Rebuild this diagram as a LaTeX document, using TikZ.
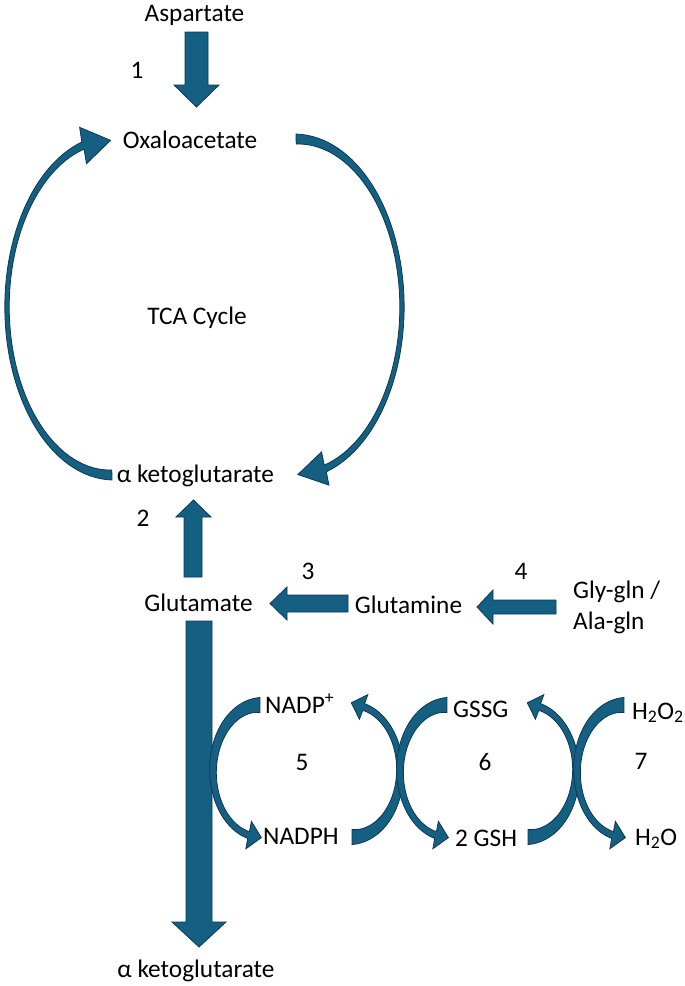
\documentclass[tikz,border=0pt]{standalone}
\usepackage{fontspec}
\setmainfont{Carlito}
\definecolor{arrfill}{HTML}{156082}
\definecolor{arrline}{HTML}{0B3A50}
\tikzset{
  blockarr/.style={fill=arrfill,draw=arrline,line width=0.8pt,line join=miter},
  lbl/.style={inner sep=0pt,font=\fontsize{25.3}{30}\selectfont}
}
\newcommand\cvset[6]{\def\CX{#1}\def\CY{#2}\def\RX{#3}\def\RY{#4}\def\TA{#5}\def\TB{#6}}
\newcommand\cvwidth[7]{\def\WT{#1}\def\WM{#2}\def\WH{#3}\def\HL{#4}\def\HW{#5}\def\HR{#6}\def\PA{#7}}
\newcommand\cvdraw{%
  \pgfmathsetmacro\cvct{cos(\TB)}%
  \pgfmathsetmacro\cvst{sin(\TB)}%
  \pgfmathsetmacro\cvsg{((\TB)-(\TA))/abs((\TB)-(\TA))}%
  \pgfmathsetmacro\cvbx{\CX+\RX*(\cvct)}%
  \pgfmathsetmacro\cvby{\CY-\RY*(\cvst)}%
  \pgfmathsetmacro\cvdx{-1*(\cvsg)*\RX*(\cvst)/100}%
  \pgfmathsetmacro\cvdy{-1*(\cvsg)*\RY*(\cvct)/100}%
  \pgfmathsetmacro\cvdn{sqrt((\cvdx)*(\cvdx)+(\cvdy)*(\cvdy))}%
  \pgfmathsetmacro\cvux{(\cvdx)/(\cvdn)}%
  \pgfmathsetmacro\cvuy{(\cvdy)/(\cvdn)}%
  \pgfmathsetmacro\cvrx{(\cvux)*cos(\HR)-(\cvuy)*sin(\HR)}%
  \pgfmathsetmacro\cvry{(\cvux)*sin(\HR)+(\cvuy)*cos(\HR)}%
  \pgfmathsetmacro\cvnx{-1*(\cvsg)*(\cvry)}%
  \pgfmathsetmacro\cvny{(\cvsg)*(\cvrx)}%
  \pgfmathsetmacro\cvax{\cvbx+\HW*(\cvnx)}%
  \pgfmathsetmacro\cvay{\cvby+\HW*(\cvny)}%
  \pgfmathsetmacro\cvcx{\cvbx-\HW*(\cvnx)}%
  \pgfmathsetmacro\cvcy{\cvby-\HW*(\cvny)}%
  \pgfmathsetmacro\cvtx{\cvbx+\HL*(\cvrx)}%
  \pgfmathsetmacro\cvty{\cvby+\HL*(\cvry)}%
  \filldraw[blockarr]
    plot[domain=0:1,samples=60,variable=\s]
      ({\CX+(\RX+0.5*(\WM+(\WT-\WM)*(1-\s)*(1-\s)*(\PA+(1-\PA)*(1-\s))+(\WH-\WM)*\s*\s*(\PA+(1-\PA)*\s)))*cos(\TA+\s*((\TB)-(\TA)))},
       {\CY-(\RY+0.5*(\WM+(\WT-\WM)*(1-\s)*(1-\s)*(\PA+(1-\PA)*(1-\s))+(\WH-\WM)*\s*\s*(\PA+(1-\PA)*\s)))*sin(\TA+\s*((\TB)-(\TA)))})
    -- (\cvax,\cvay) -- (\cvtx,\cvty) -- (\cvcx,\cvcy)
    -- plot[domain=0:1,samples=60,variable=\s]
      ({\CX+(\RX-0.5*(\WM+(\WT-\WM)*\s*\s*(\PA+(1-\PA)*\s)+(\WH-\WM)*(1-\s)*(1-\s)*(\PA+(1-\PA)*(1-\s))))*cos(\TA+(1-\s)*((\TB)-(\TA)))},
       {\CY-(\RY-0.5*(\WM+(\WT-\WM)*\s*\s*(\PA+(1-\PA)*\s)+(\WH-\WM)*(1-\s)*(1-\s)*(\PA+(1-\PA)*(1-\s))))*sin(\TA+(1-\s)*((\TB)-(\TA)))})
    -- cycle;
}
\begin{document}
\begin{tikzpicture}[x=1pt,y=-1pt]
\useasboundingbox (0,0) rectangle (685,986);

% ---------- straight block arrows ----------
\filldraw[blockarr] (185,32) -- (208,32) -- (208,85) -- (219,85) -- (196.5,107) -- (174,85) -- (185,85) -- cycle;
\filldraw[blockarr] (184,577) -- (202,577) -- (202,517) -- (211,517) -- (193.5,500) -- (176,517) -- (184,517) -- cycle;
\filldraw[blockarr] (348,595) -- (348,612) -- (287,612) -- (287,620) -- (270,603.5) -- (287,587) -- (287,595) -- cycle;
\filldraw[blockarr] (556,600) -- (556,614) -- (493,614) -- (493,624) -- (477,607) -- (493,590) -- (493,600) -- cycle;
\filldraw[blockarr] (186,621) -- (212,621) -- (212,922) -- (226,922) -- (199,947) -- (172,922) -- (186,922) -- cycle;

% ---------- TCA curved arrows ----------
\cvset{112}{307}{105}{168}{270}{106}\cvwidth{10}{3}{7.5}{28}{18.5}{14}{0}\cvdraw
\cvset{296}{307}{106}{168}{90}{-74}\cvwidth{10}{3}{7}{28}{17}{12}{0}\cvdraw

% ---------- coupled small curved arrows ----------
\cvset{260}{771}{47}{66}{90}{256}\cvwidth{15}{3}{7}{13}{14}{-8}{1}\cvdraw
\cvset{352}{771}{48}{66}{-90}{76}\cvwidth{15}{3}{7}{13}{13}{0}{1}\cvdraw
\cvset{447}{771}{47}{66}{90}{256}\cvwidth{15}{3}{7}{13}{14}{-8}{1}\cvdraw
\cvset{528}{771}{48}{66}{-90}{76}\cvwidth{15}{3}{7}{13}{13}{0}{1}\cvdraw
\cvset{624}{771}{47}{66}{90}{256}\cvwidth{15}{3}{7}{13}{14}{-8}{1}\cvdraw

% ---------- labels ----------
\node[lbl,anchor=base] (asp) at (194.5,21) {Aspartate};
\node[lbl,anchor=base] (n1) at (137,78) {1};
\node[lbl,anchor=base] (oaa) at (190,148) {Oxaloacetate};
\node[lbl,anchor=base] (tca) at (197,324) {TCA Cycle};
\node[lbl,anchor=base] (akg1) at (195.5,482) {α ketoglutarate};
\node[lbl,anchor=base] (n2) at (143,526) {2};
\node[lbl,anchor=base] (glu) at (198.5,611) {Glutamate};
\node[lbl,anchor=base] (n3) at (308,579) {3};
\node[lbl,anchor=base] (gln) at (408.5,613) {Glutamine};
\node[lbl,anchor=base] (n4) at (521,579) {4};
\node[lbl,anchor=base west] (dip1) at (573,598) {Gly-gln /};
\node[lbl,anchor=base west] (dip2) at (573,629) {Ala-gln};
\node[lbl,anchor=base west] (nadp) at (265,713) {NADP\textsuperscript{+}};
\node[lbl,anchor=base] (n5) at (302,770) {5};
\node[lbl,anchor=base west] (nadph) at (263,844) {NADPH};
\node[lbl,anchor=base west] (gssg) at (453,717) {GSSG};
\node[lbl,anchor=base] (n6) at (485,770) {6};
\node[lbl,anchor=base west] (gsh) at (455,846) {2 GSH};
\node[lbl,anchor=base west] (hoo) at (632,719) {H\textsubscript{2}O\textsubscript{2}};
\node[lbl,anchor=base] (n7) at (641,769) {7};
\node[lbl,anchor=base west] (hoh) at (635,845) {H\textsubscript{2}O};
\node[lbl,anchor=base] (akg2) at (196,977) {α ketoglutarate};
\end{tikzpicture}
\end{document}
